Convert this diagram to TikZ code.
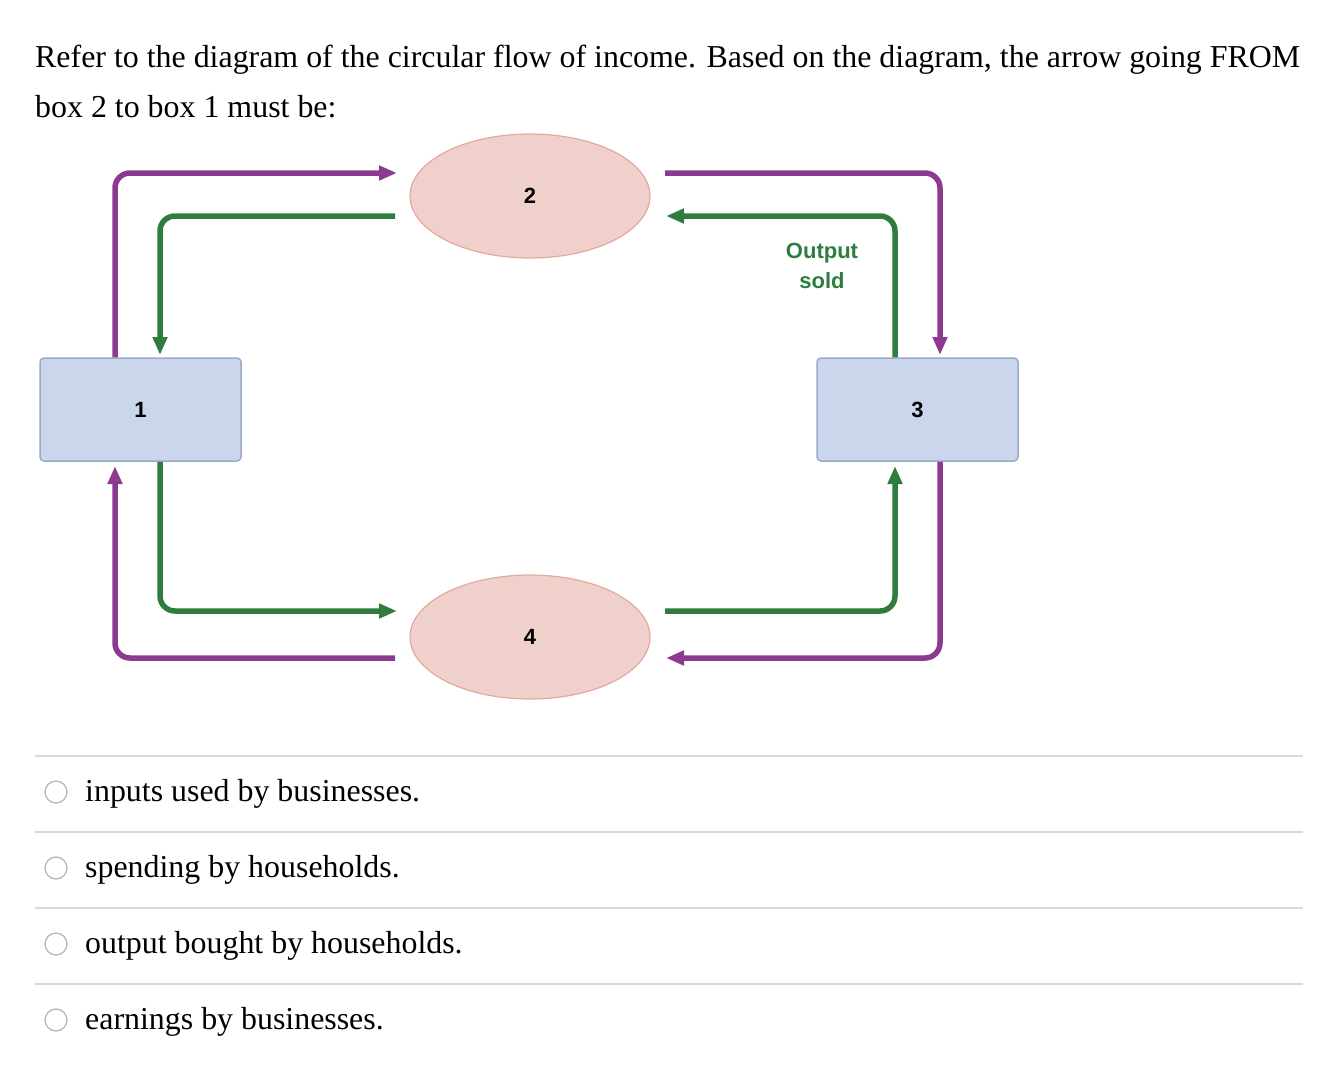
\documentclass[tikz,border=0pt]{standalone}
\usepackage{fontspec}
\setmainfont{Liberation Serif}
\newfontfamily\lsans{Liberation Sans}
\usetikzlibrary{arrows.meta,shapes.geometric}
\definecolor{pur}{HTML}{8B3A8F}
\definecolor{grn}{HTML}{2E7D3E}
\definecolor{pinkf}{HTML}{F0D0CB}
\definecolor{pinkd}{HTML}{E3A99F}
\definecolor{bluef}{HTML}{C9D6EC}
\definecolor{blued}{HTML}{9AAAC8}
\tikzset{
 flowp/.style={draw=pur,line width=5.5pt,rounded corners=15pt,-{Triangle[length=18pt,width=14pt]}},
 flowg/.style={draw=grn,line width=5.5pt,rounded corners=15pt,-{Triangle[length=18pt,width=14pt]}},
 ell/.style={ellipse,fill=pinkf,draw=pinkd,line width=1.2pt,minimum width=240pt,minimum height=124pt,font=\lsans\bfseries\fontsize{22}{24}\selectfont},
 boxx/.style={rectangle,rounded corners=4pt,fill=bluef,draw=blued,line width=1.5pt,minimum width=201pt,minimum height=103pt,font=\lsans\bfseries\fontsize{22}{24}\selectfont},
 qtext/.style={anchor=base west,inner sep=0pt,font=\fontsize{31.9}{36}\selectfont},
 sep/.style={draw=black!15,line width=1.2pt},
 radio/.style={circle,draw=black!30,line width=1.2pt,minimum size=22pt,inner sep=0pt}
}
\begin{document}
\begin{tikzpicture}[x=1pt,y=-1pt]
\useasboundingbox (0,0) rectangle (1342,1080);
\node[qtext] (t1) at (35,67) {Refer to the diagram of the circular flow of income. Based on the diagram, the arrow going FROM};
\node[qtext] (t2) at (35,117) {box 2 to box 1 must be:};
\node[ell] (e2) at (530,196) {2};
\node[ell] (e4) at (530,637) {4};
\node[boxx] (b1) at (140.5,409.5) {1};
\node[boxx] (b3) at (917.5,409.5) {3};
\node[align=center,text=grn,font=\lsans\bfseries\fontsize{22}{30}\selectfont] (os) at (822,266) {Output\\sold};
\coordinate (p1) at (397,173);
\draw[flowp] (b1.north -| 115,0) -- (115,173) -- (p1);
\coordinate (p2s) at (665,173);
\coordinate (p2e) at (940,355);
\draw[flowp] (p2s) -- (940,173) -- (p2e);
\coordinate (g1s) at (395,216);
\coordinate (g1e) at (160,355);
\draw[flowg] (g1s) -- (160,216) -- (g1e);
\coordinate (g2e) at (666,216);
\draw[flowg] (b3.north -| 895,0) -- (895,216) -- (g2e);
\coordinate (g3e) at (397,611);
\draw[flowg] (b1.south -| 160,0) -- (160,611) -- (g3e);
\coordinate (g4s) at (665,611);
\coordinate (g4e) at (895,466);
\draw[flowg] (g4s) -- (895,611) -- (g4e);
\coordinate (p3s) at (395,658);
\coordinate (p3e) at (115,466);
\draw[flowp] (p3s) -- (115,658) -- (p3e);
\coordinate (p4e) at (666,658);
\draw[flowp] (b3.south -| 940,0) -- (940,658) -- (p4e);
\foreach \y in {756,832,908,984} \draw[sep] (35,\y) -- (1303,\y);
\node[radio] (r1) at (56,792) {};
\node[radio] (r2) at (56,868) {};
\node[radio] (r3) at (56,944) {};
\node[radio] (r4) at (56,1020) {};
\node[qtext] (o1) at (85,801) {inputs used by businesses.};
\node[qtext] (o2) at (85,877) {spending by households.};
\node[qtext] (o3) at (85,953) {output bought by households.};
\node[qtext] (o4) at (85,1029) {earnings by businesses.};
\end{tikzpicture}
\end{document}
